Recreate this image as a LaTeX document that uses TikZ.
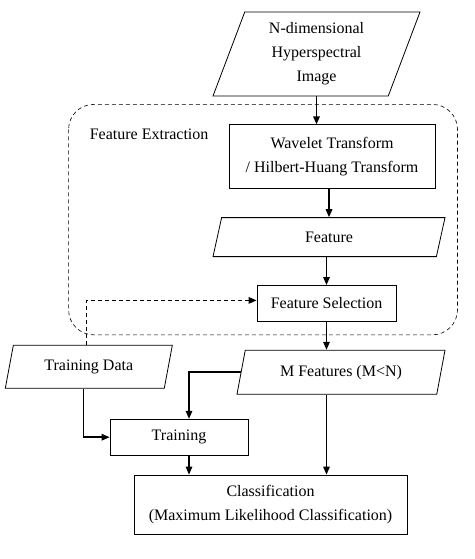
\documentclass[tikz,border=0pt]{standalone}
\usepackage{fontspec}
\setmainfont{Liberation Serif}
\usetikzlibrary{shapes.geometric, arrows.meta, positioning, calc}

\begin{document}
\begin{tikzpicture}[
    node distance=28pt,
    >={Triangle[length=8pt,width=6.5pt]},
    font=\fontsize{16}{24}\selectfont,
    process/.style={rectangle, draw, line width=0.8pt, align=center, inner sep=2pt},
    data/.style={trapezium, trapezium left angle=#1, trapezium right angle={180-#1}, trapezium stretches body, draw, line width=0.8pt, align=center, inner sep=2pt},
    data/.default=64,
    flow/.style={->, line width=1.5pt},
    grouplabel/.style={inner sep=0pt}
]
\useasboundingbox (0,0) rectangle (474pt,-559pt);

% INPUT
\node[data=64.5, minimum width=207pt, minimum height=84pt] (img) at (316.5pt,-54pt) {N-dimensional\\ Hyperspectral\\ Image};

% FEATURE EXTRACTION
\node[process, minimum width=206pt, minimum height=64pt, below=of img, xshift=15.5pt] (wav) {Wavelet Transform\\ / Hilbert-Huang Transform};
\node[data=59.5, minimum width=232pt, minimum height=39pt, below=of wav, xshift=-3pt] (feat) {Feature};
\node[process, minimum width=139pt, minimum height=36pt, below=of feat, xshift=-2.5pt] (fsel) {Feature Selection};
\node[grouplabel, left=20pt of wav.north west, yshift=-10pt] (felab) {Feature Extraction};
\draw[line width=0.6pt, dash pattern=on 4pt off 3pt, rounded corners=25pt]
    ($(felab.west |- wav.north)+(-21pt,20pt)$) rectangle ($(feat.top right corner |- fsel.south)+(12pt,-13pt)$);

% SELECTED FEATURES AND TRAINING
\node[data=66, minimum width=208pt, minimum height=44pt, below=of fsel, xshift=14.5pt] (mfeat) {M Features (M<N)};
\node[data=66, minimum width=167pt, minimum height=43pt, left=72pt of mfeat, yshift=5.5pt] (tdata) {Training Data};

% CLASSIFICATION
\node[process, minimum width=273pt, minimum height=59pt, below=80pt of mfeat, xshift=-70.5pt] (cls) {Classification\\ (Maximum Likelihood Classification)};
\node[process, minimum width=138pt, minimum height=36pt, above=19pt of cls, xshift=-91.5pt] (train) {Training};

% Connections
\draw[flow] (img.south) -- (img.south |- wav.north);
\draw[flow] (feat.north |- wav.south) -- (feat.north);
\draw[flow] (fsel.north |- feat.south) -- (fsel.north);
\draw[flow] (fsel.south) -- (fsel.south |- mfeat.north);
\draw[flow] (fsel.south |- mfeat.south) -- (fsel.south |- cls.north);
\draw[flow] (mfeat.west) -| ([xshift=10pt]train.north);
\draw[flow] ([xshift=10pt]train.south) -- ([xshift=10pt]train.south |- cls.north);
\draw[flow] ([xshift=-5.5pt]tdata.south) |- (train.west);
\draw[flow, dash pattern=on 4pt off 3pt] ([xshift=-2.5pt]tdata.north) |- ([yshift=3pt]fsel.west);

\end{tikzpicture}
\end{document}
